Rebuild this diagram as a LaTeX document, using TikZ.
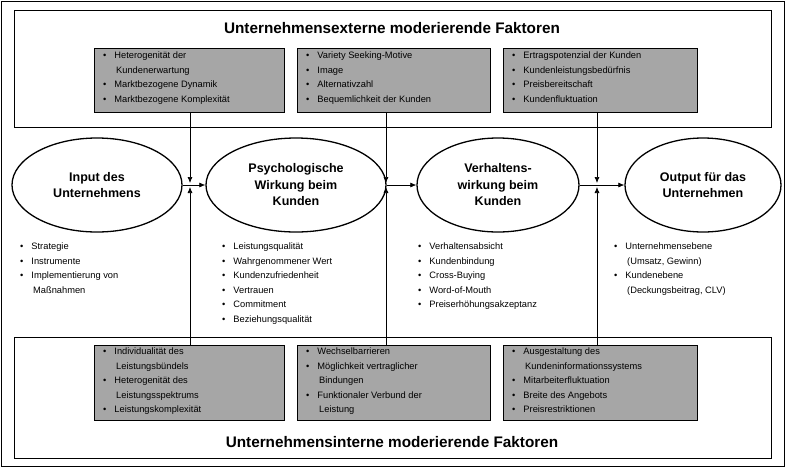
\documentclass[tikz,border=0pt]{standalone}
\usepackage{fontspec}
\setmainfont{Liberation Sans}
\usetikzlibrary{shapes.geometric,arrows.meta}
\definecolor{gbox}{HTML}{A6A6A6}
\begin{document}
\begin{tikzpicture}[x=1pt,y=-1pt,
  font=\fontsize{9.3}{14.5}\selectfont,
  frame/.style={draw,line width=0.8pt},
  gray/.style={draw,fill=gbox,line width=0.5pt},
  ell/.style={draw,ellipse,line width=1.3pt,align=center,inner sep=0pt,font=\fontsize{12.5}{16.5}\selectfont\bfseries},
  arr/.style={-{Latex[length=6pt,width=5pt]},line width=0.7pt},
  lst/.style={anchor=north west,align=left,inner sep=0pt},
  ttl/.style={font=\fontsize{15.3}{18}\selectfont\bfseries}]
\useasboundingbox (0,0) rectangle (785,467);
\draw[line width=0.5pt] (1,1) rectangle (784,466);
\draw[frame] (14,10) rectangle (771,127);
\node[ttl] (t1) at (392,28) {Unternehmensexterne moderierende Faktoren};
\draw[frame] (14,337) rectangle (771,458);
\node[ttl] (t2) at (392,442) {Unternehmensinterne moderierende Faktoren};
% gray boxes top
\draw[gray] (94,48) rectangle (284,112);
\draw[gray] (297,48) rectangle (490,112);
\draw[gray] (503,48) rectangle (697,112);
\node[lst] (g1) at (103,52) {•\hspace{8pt}Heterogenität der\\\hspace{13pt}Kundenerwartung\\•\hspace{8pt}Marktbezogene Dynamik\\•\hspace{8pt}Marktbezogene Komplexität};
\node[lst] (g2) at (306,52) {•\hspace{8pt}Variety Seeking-Motive\\•\hspace{8pt}Image\\•\hspace{8pt}Alternativzahl\\•\hspace{8pt}Bequemlichkeit der Kunden};
\node[lst] (g3) at (512,52) {•\hspace{8pt}Ertragspotenzial der Kunden\\•\hspace{8pt}Kundenleistungsbedürfnis\\•\hspace{8pt}Preisbereitschaft\\•\hspace{8pt}Kundenfluktuation};
% gray boxes bottom
\draw[gray] (94,345) rectangle (284,420);
\draw[gray] (297,345) rectangle (490,420);
\draw[gray] (503,345) rectangle (697,420);
\node[lst] (h1) at (103,348) {•\hspace{8pt}Individualität des\\\hspace{13pt}Leistungsbündels\\•\hspace{8pt}Heterogenität des\\\hspace{13pt}Leistungsspektrums\\•\hspace{8pt}Leistungskomplexität};
\node[lst] (h2) at (306,348) {•\hspace{8pt}Wechselbarrieren\\•\hspace{8pt}Möglichkeit vertraglicher\\\hspace{13pt}Bindungen\\•\hspace{8pt}Funktionaler Verbund der\\\hspace{13pt}Leistung};
\node[lst] (h3) at (512,348) {•\hspace{8pt}Ausgestaltung des\\\hspace{13pt}Kundeninformationssystems\\•\hspace{8pt}Mitarbeiterfluktuation\\•\hspace{8pt}Breite des Angebots\\•\hspace{8pt}Preisrestriktionen};
% ellipses
\node[ell,minimum width=170pt,minimum height=94pt] (e1) at (97,185) {Input des\\Unternehmens};
\node[ell,minimum width=180pt,minimum height=94pt] (e2) at (296,185) {Psychologische\\Wirkung beim\\Kunden};
\node[ell,minimum width=162pt,minimum height=94pt] (e3) at (498,185) {Verhaltens-\\wirkung beim\\Kunden};
\node[ell,minimum width=156pt,minimum height=94pt] (e4) at (703,185) {Output für das\\Unternehmen};
\draw[arr] (e1) -- (e2);
\draw[arr] (e2) -- (e3);
\draw[arr] (e3) -- (e4);
\coordinate (a1) at (190,183); \coordinate (a2) at (386,183); \coordinate (a3) at (597,183);
\coordinate (b1) at (190,187); \coordinate (b2) at (386,187); \coordinate (b3) at (597,187);
\draw[arr] (190,112) -- (a1);
\draw[arr] (386,112) -- (a2);
\draw[arr] (597,112) -- (a3);
\draw[arr] (190,345) -- (b1);
\draw[arr] (386,345) -- (b2);
\draw[arr] (597,345) -- (b3);
% lists
\node[lst] (l1) at (20,243) {•\hspace{8pt}Strategie\\•\hspace{8pt}Instrumente\\•\hspace{8pt}Implementierung von\\\hspace{13pt}Maßnahmen};
\node[lst] (l2) at (222,243) {•\hspace{8pt}Leistungsqualität\\•\hspace{8pt}Wahrgenommener Wert\\•\hspace{8pt}Kundenzufriedenheit\\•\hspace{8pt}Vertrauen\\•\hspace{8pt}Commitment\\•\hspace{8pt}Beziehungsqualität};
\node[lst] (l3) at (418,243) {•\hspace{8pt}Verhaltensabsicht\\•\hspace{8pt}Kundenbindung\\•\hspace{8pt}Cross-Buying\\•\hspace{8pt}Word-of-Mouth\\•\hspace{8pt}Preiserhöhungsakzeptanz};
\node[lst] (l4) at (614,243) {•\hspace{8pt}Unternehmensebene\\\hspace{13pt}(Umsatz, Gewinn)\\•\hspace{8pt}Kundenebene\\\hspace{13pt}(Deckungsbeitrag, CLV)};
\end{tikzpicture}
\end{document}
